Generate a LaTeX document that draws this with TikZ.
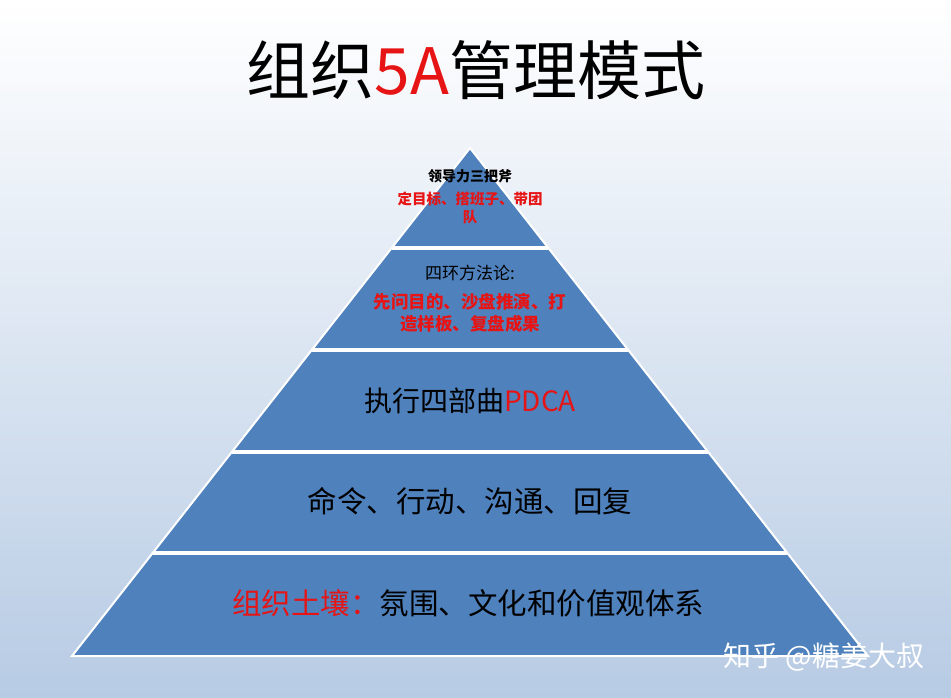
\documentclass[tikz,border=0pt]{standalone}
\usepackage{fontspec}
\setmainfont{Noto Sans CJK SC}
\definecolor{pyr}{RGB}{79,129,189}
\definecolor{bgb}{RGB}{183,203,228}
\definecolor{red1}{RGB}{230,20,20}
\begin{document}
\begin{tikzpicture}[x=1pt,y=-1pt,
  lay/.style={text=black,align=center,inner sep=0pt},
  sep/.style={draw=white,line width=3.5pt}]
\useasboundingbox (0,0) rectangle (951,697);
\shade[top color=white,bottom color=bgb] (0,0) rectangle (951,697);
\node[lay,font=\fontsize{64}{68}\selectfont] (title) at (476,70) {组织\textcolor{red1}{5A}管理模式};
\coordinate (apex) at (470,148);
\coordinate (bl) at (72,656);
\coordinate (br) at (868,656);
\fill[pyr,draw=white,line width=2pt] (apex) -- (br) -- (bl) -- cycle;
\foreach \y in {248,350,452,553}{
  \pgfmathsetmacro\dx{0.7835*(\y-148)}
  \draw[sep] ({470-\dx},\y) -- ({470+\dx},\y);
}
\node[lay,font=\fontsize{14}{16}\selectfont\bfseries] (l1a) at (470,176) {领导力三把斧};
\node[lay,text=red1,font=\fontsize{14.5}{18}\selectfont\bfseries] (l1b) at (470,208) {定目标、搭班子、带团\\队};
\node[lay,font=\fontsize{17}{19}\selectfont] (l2a) at (470,273) {四环方法论:};
\node[lay,text=red1,font=\fontsize{17.5}{22}\selectfont\bfseries] (l2b) at (470,313) {先问目的、沙盘推演、打\\造样板、复盘成果};
\node[lay,font=\fontsize{28}{32}\selectfont] (l3) at (470,401) {执行四部曲\textcolor{red1}{PDCA}};
\node[lay,font=\fontsize{29.5}{33}\selectfont] (l4) at (470,501) {命令、行动、沟通、回复};
\node[lay,font=\fontsize{29.5}{33}\selectfont] (l5) at (468,603) {\textcolor{red1}{组织土壤：}氛围、文化和价值观体系};
\node[lay,text=white,font=\fontsize{28}{30}\selectfont] (wm) at (824,657) {知乎 @糖姜大叔};
\end{tikzpicture}
\end{document}
